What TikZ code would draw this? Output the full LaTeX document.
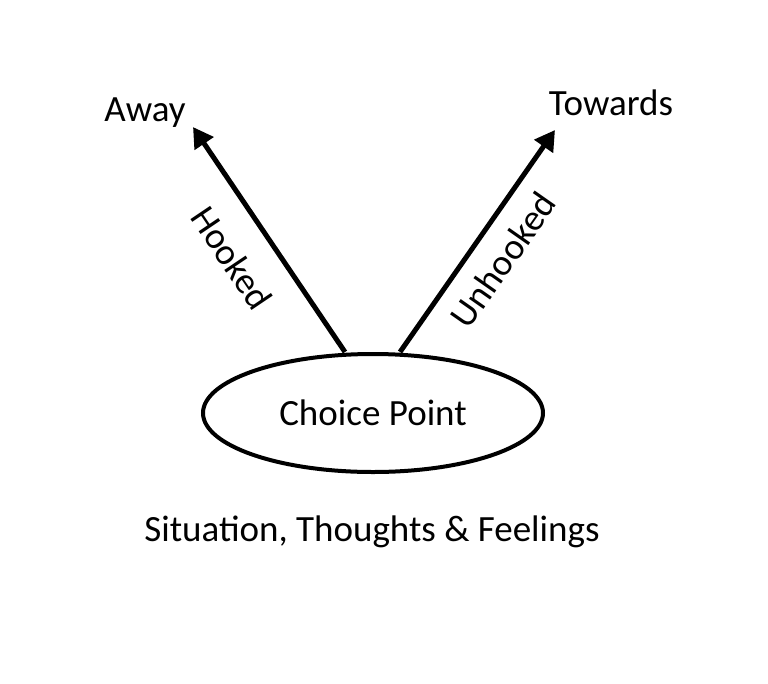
\documentclass[tikz,border=0pt]{standalone}
\usepackage{fontspec}
\setmainfont{Carlito}
\usetikzlibrary{shapes.geometric,arrows.meta}
\begin{document}
\begin{tikzpicture}[x=1pt,y=-1pt]
    \tikzstyle{lbl}=[font=\fontsize{37}{44}\selectfont,inner sep=0pt]
    \tikzstyle{choice}=[draw,ellipse,line width=4pt,minimum width=340pt,minimum height=118pt,lbl]
    \tikzstyle{pointer}=[line width=5pt,-{Triangle[length=20pt,width=22pt]}]
    \useasboundingbox (0,0) rectangle (768,683);

    % the choice point and its context
    \node[choice] (cp) at (373,413) {Choice Point};
    \node[lbl] (sit) at (372,532) {Situation, Thoughts \& Feelings};

    % the two directions
    \node[lbl] (away) at (145,113) {Away};
    \node[lbl] (towards) at (611,103) {Towards};
    \coordinate (a0) at (345,352);
    \coordinate (a1) at (193,127);
    \coordinate (t0) at (400,352);
    \coordinate (t1) at (555,130);
    \draw[pointer] (a0) -- (a1);
    \draw[pointer] (t0) -- (t1);

    % labels along the arrows
    \node[lbl,rotate=-56] (hooked) at (232,258) {Hooked};
    \node[lbl,rotate=55] (unhooked) at (503,260) {Unhooked};
\end{tikzpicture}
\end{document}
